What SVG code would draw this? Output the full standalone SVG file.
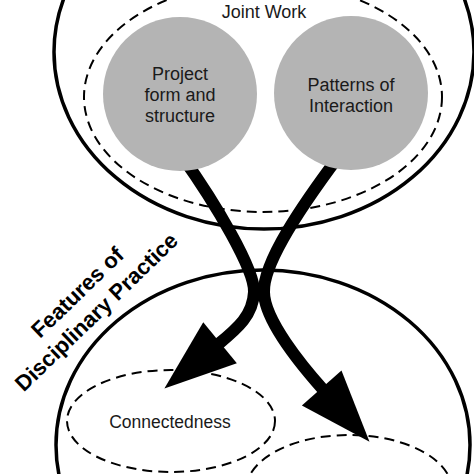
<svg xmlns="http://www.w3.org/2000/svg" width="474" height="474" viewBox="0 0 474 474">
  <style>
    .solid { fill: none; stroke: #000; stroke-width: 3.5; }
    .dashed { fill: none; stroke: #000; stroke-width: 2; stroke-dasharray: 10 6; }
    .node { fill: #b4b4b4; stroke: none; }
    .lbl { font-family: "Liberation Sans", Arial, sans-serif; font-size: 18px; fill: #1a1a1a; text-anchor: middle; }
    .title { font-family: "Liberation Sans", Arial, sans-serif; font-size: 22px; font-weight: bold; fill: #000; text-anchor: middle; }
    .arrow { fill: none; stroke: #000; stroke-width: 12; marker-end: url(#head); }
  </style>
  <defs>
    <marker id="head" markerUnits="userSpaceOnUse" markerWidth="74" markerHeight="54" refX="2" refY="26.5" orient="auto" viewBox="0 0 74 54" overflow="visible">
      <path d="M0,0 L72,26.5 L0,53 Z" fill="#000"/>
    </marker>
  </defs>
  <rect width="474" height="474" fill="#fff"/>

  <g id="joint-work">
    <ellipse class="solid" cx="264" cy="52" rx="210" ry="177"/>
    <ellipse class="dashed" cx="263" cy="97" rx="179" ry="115"/>
    <text class="lbl" x="264" y="17.5">Joint Work</text>
  </g>

  <g id="disciplinary-practice">
    <ellipse class="solid" cx="263" cy="445" rx="207" ry="175"/>
    <g transform="translate(82.6,297.8) rotate(-44)">
      <text class="title" x="0" y="0">Features of</text>
      <text class="title" x="0" y="27.3">Disciplinary Practice</text>
    </g>
  </g>

  <g id="connectedness">
    <ellipse class="dashed" cx="171" cy="421" rx="104" ry="51"/>
    <text class="lbl" x="170" y="428" style="font-size:17.5px">Connectedness</text>
  </g>

  <g id="unlabeled-feature">
    <ellipse class="dashed" cx="349" cy="490" rx="103" ry="55"/>
  </g>

  <g id="connectors">
    <path class="arrow" d="M181,155 C216,204 255,270 254,292 C253,315 238,328 218.5,344"/>
    <path class="arrow" d="M339,156 C303,204 263,262 264,292 C264,320 303,367 323,389.5"/>
  </g>

  <g id="project-form">
    <circle class="node" cx="180" cy="94" r="77"/>
    <text class="lbl" x="180" y="80">Project</text>
    <text class="lbl" x="180" y="100.5">form and</text>
    <text class="lbl" x="180" y="121.5">structure</text>
  </g>

  <g id="patterns-of-interaction">
    <circle class="node" cx="351" cy="93" r="77"/>
    <text class="lbl" x="351" y="91">Patterns of</text>
    <text class="lbl" x="351" y="112">Interaction</text>
  </g>
</svg>
